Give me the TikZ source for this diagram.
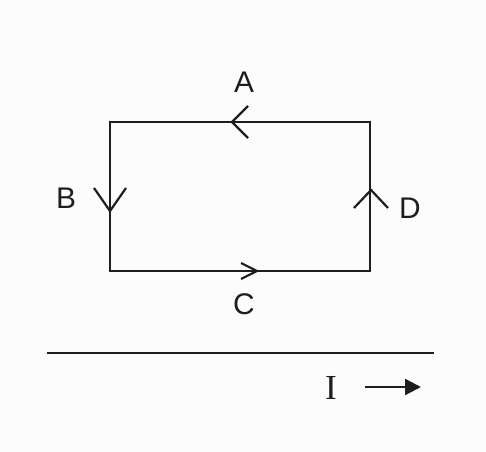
\documentclass[tikz,border=0pt]{standalone}
\usepackage{fontspec}
\setmainfont{Liberation Sans}
\newfontfamily\serifI{Liberation Serif}
\usetikzlibrary{arrows.meta,positioning}
\definecolor{ink}{HTML}{1E1E1E}
\definecolor{paper}{HTML}{FCFCFC}
\tikzset{
  wire/.style={draw=ink,line width=1.25pt},
  chev/.style={draw=ink,line width=1.25pt,line join=miter},
  lbl/.style={text=ink,font=\fontsize{17}{17}\selectfont,inner sep=1pt}
}
\begin{document}
\begin{tikzpicture}[x=0.02cm,y=-0.02cm]
\fill[paper] (0,0) rectangle (486,452);
\useasboundingbox (0,0) rectangle (486,452);
% loop
\coordinate (tl) at (110,122);
\coordinate (tr) at (370,122);
\coordinate (br) at (370,271);
\coordinate (bl) at (110,271);
\draw[wire] (tl) -- (tr) -- (br) -- (bl) -- cycle;
% direction marks
\draw[chev] (248,106) -- (232,122) -- (248,138);
\draw[chev] (94,188) -- (110,211) -- (126,188);
\draw[chev] (241,263) -- (257,271) -- (241,279);
\draw[chev] (354,208) -- (371,190) -- (388,208);
\node[lbl] (A) at (244,82) {A};
\node[lbl] (B) at (66,198) {B};
\node[lbl] (C) at (244,304) {C};
\node[lbl] (D) at (410,208) {D};
% straight wire
\coordinate (wl) at (47,353);
\coordinate (wr) at (434,353);
\draw[wire] (wl) -- (wr);
\node[lbl,font=\serifI\fontsize{20}{20}\selectfont] (I) at (331,388) {I};
\coordinate (tip) at (421,387);
\draw[wire,-{Triangle[length=9pt,width=9pt]}] (365,387) -- (tip);
\end{tikzpicture}
\end{document}
